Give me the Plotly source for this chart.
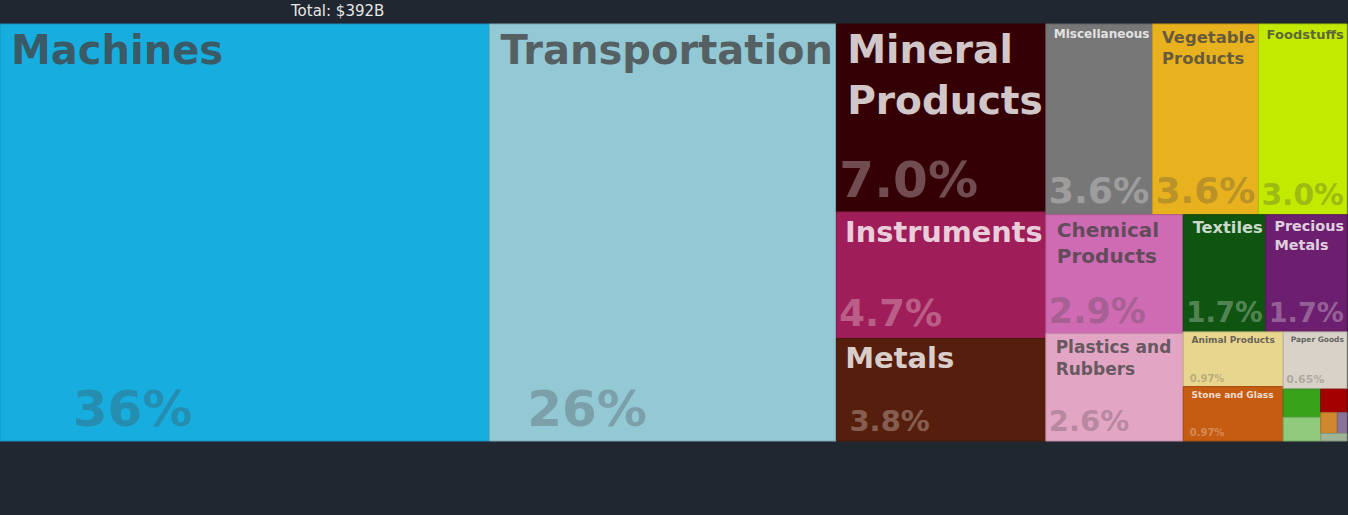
import plotly.graph_objects as go

# ---- data (values in US$ billions) ----
categories = ["Machines", "Transportation", "Mineral Products", "Instruments", "Metals",
              "Miscellaneous", "Vegetable Products", "Foodstuffs", "Chemical Products",
              "Plastics and Rubbers", "Textiles", "Precious Metals", "Animal Products",
              "Stone and Glass", "Paper Goods", "Wood Products", "Footwear and Headwear",
              "Animal Hides", "Arts and Antiques", "Weapons", "Animal and Vegetable Bi-Products"]
values_busd = [142.5, 101.0, 27.5, 18.5, 15.0, 14.2, 14.1, 11.8, 11.4, 10.3, 6.75, 6.65,
               3.82, 3.80, 2.55, 0.74, 0.62, 0.43, 0.24, 0.14, 0.14]
display_lines = [["Machines"], ["Transportation"], ["Mineral", "Products"], ["Instruments"],
                 ["Metals"], ["Miscellaneous"], ["Vegetable", "Products"], ["Foodstuffs"],
                 ["Chemical", "Products"], ["Plastics and", "Rubbers"], ["Textiles"],
                 ["Precious", "Metals"], ["Animal Products"], ["Stone and Glass"],
                 ["Paper Goods"], [], [], [], [], [], []]
total_label = "Total: $392B"

# ---- styles ----
colors = ["#18addf", "#93c8d5", "#340006", "#9f1e59", "#561f0d", "#777778", "#e8b11e",
          "#c1ea00", "#cf6bb3", "#e3a5c4", "#0f5411", "#6b1f6e", "#e8d68f", "#c55c12",
          "#d8d2c8", "#38a21a", "#90cb7d", "#a40000", "#d0872e", "#8a7399", "#9fb396"]
dark_text = [True, True, False, False, False, False, True, True, True, True, False, False,
             True, False, True, True, True, False, True, False, True]
label_sizes = [40, 40, 40, 31, 29, 16, 20, 16, 20, 17, 20, 17, 9, 9, 9, 6, 6, 6, 6, 6, 6]
pct_sizes = [50, 50, 50, 37, 29, 50, 50, 40, 35, 29, 28, 28, 10, 10, 11, 6, 6, 6, 6, 6, 6]
pct_indent = [4, 2, 0, 0, 1, 0, 0, 0, 0, 0, 0, 0, 1, 1, 0, 0, 0, 0, 0, 0, 0]
BG = "#212730"
THIN = "\u2009"


def shade(hexc, f=0.85):
    h = hexc.lstrip("#")
    r, g, b = (int(h[i:i + 2], 16) for i in (0, 2, 4))
    return "rgb(%d,%d,%d)" % (r * f, g * f, b * f)


def label_text(lines, size):
    if not lines:
        return ""
    n = max(1, round(6 / (0.2 * size)))
    return "<br>".join(THIN * n + ln for ln in lines)


root = "root"
ids = [root] + categories
parents = [""] + [root] * len(categories)
vals = [0] + values_busd

label_cols = [BG] + ["rgba(68,68,68,0.8)" if d else "rgba(255,255,255,0.8)" for d in dark_text]
pct_cols = [BG] + ["rgba(68,68,68,0.3)" if d else "rgba(255,255,255,0.3)" for d in dark_text]
show = [len(l) > 0 for l in display_lines]

common = dict(ids=ids, labels=ids, parents=parents, values=vals, sort=True,
              tiling=dict(packing="squarify", squarifyratio=1.618, pad=0),
              pathbar=dict(visible=False), hoverinfo="skip",
              domain=dict(x=[0, 1], y=[0, 1]))

fig = go.Figure()
fig.add_trace(go.Treemap(
    **common,
    marker=dict(colors=[BG] + colors,
                line=dict(width=1, color=[BG] + [shade(c) for c in colors]),
                pad=dict(t=0, l=0, r=0, b=0)),
    texttemplate=[""] + [label_text(l, s) for l, s in zip(display_lines, label_sizes)],
    textposition="top left",
    textfont=dict(family="DejaVu Sans", size=[10] + label_sizes, color=label_cols, weight="bold"),
))
fig.add_trace(go.Treemap(
    **common,
    marker=dict(colors=["rgba(0,0,0,0)"] * len(ids),
                line=dict(width=0, color="rgba(0,0,0,0)"),
                pad=dict(t=0, l=0, r=0, b=0)),
    texttemplate=[""] + [("\u00a0" * n + "%{percentRoot:.2p}") if s else ""
                         for s, n in zip(show, pct_indent)],
    textposition="bottom left",
    textfont=dict(family="DejaVu Sans", size=[10] + pct_sizes, color=pct_cols, weight="bold"),
))

fig.add_annotation(text=total_label, x=0.25, xref="paper", xanchor="center",
                   y=1, yref="paper", yanchor="bottom", yshift=2, showarrow=False,
                   font=dict(family="DejaVu Sans", size=15, color="#e6e6e6"))

fig.update_layout(width=1348, height=515, paper_bgcolor=BG, plot_bgcolor=BG,
                  margin=dict(l=0, r=1, t=24, b=74), showlegend=False)

fig.write_html("out.html", config={"displayModeBar": False},
               post_script="document.body.style.margin='0px';"
                           "document.body.style.background='%s';" % BG)
